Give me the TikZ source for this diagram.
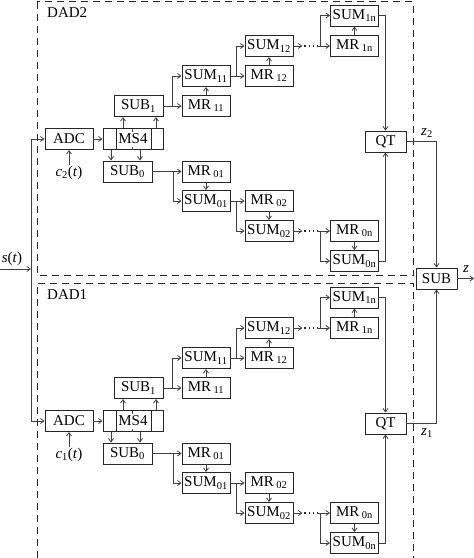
\documentclass[tikz,border=0pt]{standalone}
\usepackage{fontspec}
\setmainfont{Liberation Serif}
\usetikzlibrary{arrows.meta}
\begin{document}
\begin{tikzpicture}[x=1pt,y=-1pt,
  every node/.style={font=\fontsize{15}{17}\selectfont},
  blk/.style={draw=black!85, line width=0.9pt, minimum width=48pt, minimum height=21pt, inner sep=0pt},
  arr/.style={-{Straight Barb[length=3.5pt,width=5pt]}, draw=black!75, line width=0.8pt},
  ln/.style={draw=black!75, line width=0.8pt},
  dots/.style={draw=black!85, line width=1.3pt, dash pattern=on 1.3pt off 3pt},
  dadframe/.style={draw=black!85, line width=0.9pt, dash pattern=on 7pt off 5pt}]
\useasboundingbox (0,0) rectangle (474,558);

% dashed frames
\draw[dadframe] (37,1.5) rectangle (413,275);
\draw[dadframe] (37,558) -- (37,283) -- (413,283) -- (413,558);

\foreach \p/\o/\lab/\c in {u/0/DAD2/2, l/282/DAD1/1} {
\begin{scope}[shift={(0,\o)}]
  \node[anchor=west, inner sep=0pt] (\p-lab) at (47,13) {\lab};
  \node[blk] (\p-ADC) at (69,139) {ADC};
  \node[inner sep=1pt] (\p-c) at (69,173) {\textit{c}\textsubscript{\c}(\textit{t})};
  \node[blk, minimum width=60pt] (\p-MS) at (133,139) {MS4};
  \draw[line width=0.9pt, draw=black!85] (116,128.5) -- (116,149.5) (151,128.5) -- (151,149.5);
  \draw[line width=0.6pt, draw=black!70] (132,128.5) -- (132,131.5) (132,146.5) -- (132,149.5);
  \node[blk, minimum width=49pt] (\p-SUB1) at (138.5,106) {SUB\textsubscript{1}};
  \node[blk, minimum width=49pt] (\p-SUB0) at (127.5,171.5) {SUB\textsubscript{0}};
  \node[blk] (\p-SUM11) at (206,76) {SUM\textsubscript{11}};
  \node[blk] (\p-MR11) at (206,106) {MR\,\textsubscript{11}};
  \node[blk] (\p-SUM12) at (269,46) {SUM\textsubscript{12}};
  \node[blk] (\p-MR12) at (269,76) {MR\,\textsubscript{12}};
  \node[blk] (\p-SUM1n) at (354.5,15.5) {SUM\textsubscript{1n}};
  \node[blk] (\p-MR1n) at (354.5,46) {MR\,\textsubscript{1n}};
  \node[blk] (\p-MR01) at (206,171.5) {MR\,\textsubscript{01}};
  \node[blk] (\p-SUM01) at (206,201) {SUM\textsubscript{01}};
  \node[blk] (\p-MR02) at (269,201) {MR\,\textsubscript{02}};
  \node[blk] (\p-SUM02) at (269,231) {SUM\textsubscript{02}};
  \node[blk] (\p-MR0n) at (354.5,231) {MR\,\textsubscript{0n}};
  \node[blk] (\p-SUM0n) at (354.5,261) {SUM\textsubscript{0n}};
  \node[blk, minimum width=41pt] (\p-QT) at (385.5,141.5) {QT};

  \draw[arr] (\p-c.north) -- (\p-ADC.south);
  \draw[arr] (\p-ADC.east) -- (\p-MS.west);
  \draw[arr] ([xshift=-10pt]\p-MS.north) -- ([xshift=-10pt]\p-MS.north |- \p-SUB1.south);
  \draw[arr] ([xshift=23pt]\p-MS.north) -- ([xshift=23pt]\p-MS.north |- \p-SUB1.south);
  \draw[arr] ([xshift=-22pt]\p-MS.south) -- ([xshift=-22pt]\p-MS.south |- \p-SUB0.north);
  \draw[arr] ([xshift=7pt]\p-MS.south) -- ([xshift=7pt]\p-MS.south |- \p-SUB0.north);

  \draw[arr] (\p-SUB1.east) -- (\p-MR11.west);
  \draw[arr] ([xshift=8.5pt]\p-SUB1.east) |- (\p-SUM11.west);
  \draw[arr] (\p-MR11) -- (\p-SUM11);
  \draw[arr] (\p-SUM11.east) -- (\p-MR12.west);
  \draw[arr] ([xshift=6pt]\p-SUM11.east) |- (\p-SUM12.west);
  \draw[arr] (\p-MR12) -- (\p-SUM12);
  \draw[arr] (\p-SUM12.east) -- ++(9,0) coordinate (\p-da);
  \draw[dots] ([xshift=2pt]\p-da) -- ++(13,0) coordinate (\p-db);
  \draw[arr] (\p-db) -- (\p-MR1n.west);
  \draw[arr] ([xshift=3pt]\p-db) |- (\p-SUM1n.west);
  \draw[arr] (\p-MR1n) -- (\p-SUM1n);
  \draw[arr] (\p-SUM1n.east) -| (\p-QT.north);

  \draw[arr] (\p-SUB0.east) -- (\p-MR01.west);
  \draw[arr] ([xshift=21pt]\p-SUB0.east) |- (\p-SUM01.west);
  \draw[arr] (\p-MR01) -- (\p-SUM01);
  \draw[arr] (\p-SUM01.east) -- (\p-MR02.west);
  \draw[arr] ([xshift=6pt]\p-SUM01.east) |- (\p-SUM02.west);
  \draw[arr] (\p-MR02) -- (\p-SUM02);
  \draw[arr] (\p-SUM02.east) -- ++(9,0) coordinate (\p-dc);
  \draw[dots] ([xshift=2pt]\p-dc) -- ++(13,0) coordinate (\p-dd);
  \draw[arr] (\p-dd) -- (\p-MR0n.west);
  \draw[arr] ([xshift=3pt]\p-dd) |- (\p-SUM0n.west);
  \draw[arr] (\p-MR0n) -- (\p-SUM0n);
  \draw[arr] (\p-SUM0n.east) -| (\p-QT.south);
\end{scope}
}

% input
\node[inner sep=0pt] (slab) at (12,259) {\textit{s}(\textit{t})};
\coordinate (sin) at (0,269);
\coordinate (sj) at (31,269);
\draw[arr] (sin) -- (sj);
\draw[arr] (sj) |- (u-ADC.west);
\draw[arr] (sj) |- (l-ADC.west);

% output
\node[blk, minimum width=41pt] (SUB) at (436.5,278.5) {SUB};
\draw[arr] (u-QT.east) -| (SUB.north);
\draw[arr] (l-QT.east) -| (SUB.south);
\node[inner sep=0pt] (z2) at (427,133) {\textit{z}\textsubscript{2}};
\node[inner sep=0pt] (z1) at (427,433) {\textit{z}\textsubscript{1}};
\coordinate (zout) at (474,278.5);
\draw[arr] (SUB.east) -- (zout);
\node[inner sep=0pt] (zlab) at (466,269) {\textit{z}};
\end{tikzpicture}
\end{document}
